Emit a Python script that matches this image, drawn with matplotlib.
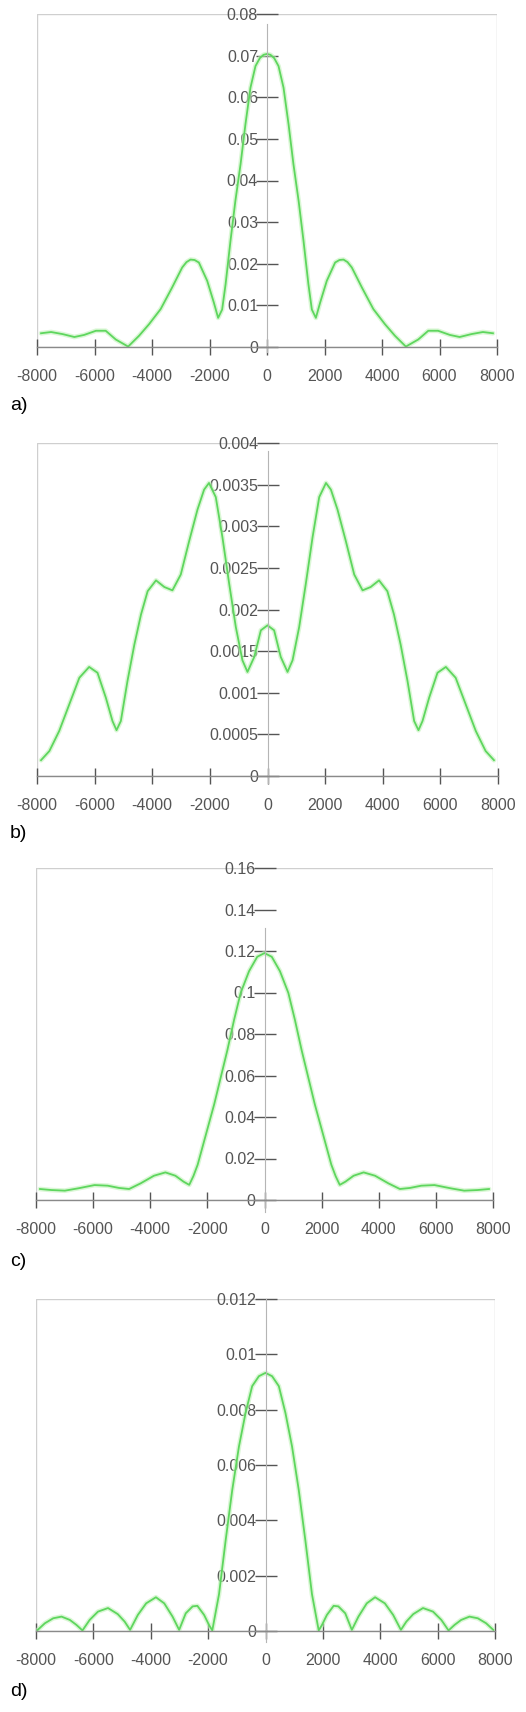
import matplotlib
matplotlib.use("Agg")
import matplotlib.pyplot as plt
from matplotlib.patches import Rectangle

plt.rcParams['font.family'] = ['Liberation Sans', 'DejaVu Sans']

# ---- data ----
x_a = [-7860, -7510, -7110, -6700, -6360, -5950, -5610, -5260, -4830, -4450, -4100, -3700,
       -3300, -2950, -2800, -2660, -2520, -2370, -2080, -1850, -1700, -1560, -1440, -1270,
       -1100, -920, -750, -575, -400, -250, -120, 0,
       120, 250, 400, 575, 750, 920, 1100, 1270, 1440, 1560, 1700, 1850, 2080, 2370, 2520,
       2660, 2800, 2950, 3300, 3700, 4100, 4450, 4830, 5260, 5610, 5950, 6360, 6700, 7110,
       7510, 7860]
y_a = [0.0033, 0.0036, 0.0031, 0.0024, 0.0029, 0.0039, 0.0039, 0.0018, 0.0001, 0.0027, 0.0055,
       0.0091, 0.0143, 0.0191, 0.0204, 0.0210, 0.0209, 0.0203, 0.0159, 0.0107, 0.0070, 0.0090,
       0.0151, 0.0255, 0.0351, 0.0439, 0.0535, 0.0623, 0.0675, 0.0694, 0.0702, 0.0704,
       0.0702, 0.0694, 0.0675, 0.0623, 0.0535, 0.0439, 0.0351, 0.0255, 0.0151, 0.0090,
       0.0070, 0.0107, 0.0159, 0.0203, 0.0209, 0.0210, 0.0204, 0.0191, 0.0143, 0.0091,
       0.0055, 0.0027, 0.0001, 0.0018, 0.0039, 0.0039, 0.0029, 0.0024, 0.0031, 0.0036, 0.0033]

x_b = [-7860, -7570, -7230, -6880, -6530, -6190, -5900, -5610, -5380, -5240, -5090, -4860,
       -4620, -4390, -4160, -3870, -3580, -3300, -3010, -2720, -2430, -2200, -2030, -1795,
       -1565, -1330, -1100, -870, -695, -460, -230, 0,
       230, 460, 695, 870, 1100, 1330, 1565, 1795, 2030, 2200, 2430, 2720, 3010, 3300, 3580,
       3870, 4160, 4390, 4620, 4860, 5090, 5240, 5380, 5610, 5900, 6190, 6530, 6880, 7230,
       7570, 7860]
y_b = [0.00019, 0.00030, 0.00054, 0.00086, 0.00118, 0.00131, 0.00124, 0.00094, 0.00066,
       0.00055, 0.00066, 0.00114, 0.00158, 0.00194, 0.00222, 0.00235, 0.00227, 0.00223,
       0.00242, 0.00282, 0.00320, 0.00344, 0.00352, 0.00335, 0.00287, 0.00231, 0.00179,
       0.00139, 0.00125, 0.00143, 0.00175, 0.00181,
       0.00175, 0.00143, 0.00125, 0.00139, 0.00179, 0.00231, 0.00287, 0.00335, 0.00352,
       0.00344, 0.00320, 0.00282, 0.00242, 0.00223, 0.00227, 0.00235, 0.00222, 0.00194,
       0.00158, 0.00114, 0.00066, 0.00055, 0.00066, 0.00094, 0.00124, 0.00131, 0.00118,
       0.00086, 0.00054, 0.00030, 0.00019]

x_c = [-7860, -7460, -6990, -6530, -5950, -5490, -5090, -4740, -4340, -3870, -3470, -3120,
       -2830, -2635, -2490, -2340, -2050, -1760, -1530, -1300, -1065, -835, -540, -255, 0,
       255, 540, 835, 1065, 1300, 1530, 1760, 2050, 2340, 2490, 2635, 2830, 3120, 3470, 3870,
       4340, 4740, 5090, 5490, 5950, 6530, 6990, 7460, 7860]
y_c = [0.0053, 0.0048, 0.0045, 0.0056, 0.0072, 0.0069, 0.0058, 0.0053, 0.0080, 0.0117,
       0.0133, 0.0117, 0.0088, 0.0073, 0.0115, 0.0170, 0.0316, 0.0462, 0.0592, 0.0722,
       0.0868, 0.0998, 0.1103, 0.1172, 0.1190,
       0.1172, 0.1103, 0.0998, 0.0868, 0.0722, 0.0592, 0.0462, 0.0316, 0.0170, 0.0115,
       0.0073, 0.0088, 0.0117, 0.0133, 0.0117, 0.0080, 0.0053, 0.0058, 0.0069, 0.0072,
       0.0056, 0.0045, 0.0048, 0.0053]

x_d = [-7940, -7690, -7400, -7110, -6820, -6590, -6380, -6130, -5840, -5490, -5150, -4910,
       -4720, -4450, -4160, -3820, -3530, -3240, -3010, -2780, -2540, -2375, -2140, -1970,
       -1855, -1620, -1390, -1160, -925, -695, -465, -230, 0,
       230, 465, 695, 925, 1160, 1390, 1620, 1855, 1970, 2140, 2375, 2540, 2780, 3010, 3240,
       3530, 3820, 4160, 4450, 4720, 4910, 5150, 5490, 5840, 6130, 6380, 6590, 6820, 7110,
       7400, 7690, 7940]
y_d = [0.00004, 0.00028, 0.00046, 0.00052, 0.00040, 0.00022, 0.00002, 0.00040, 0.00070,
       0.00083, 0.00061, 0.00034, 0.00004, 0.00058, 0.00100, 0.00122, 0.00100, 0.00052,
       0.00004, 0.00064, 0.00089, 0.00091, 0.00058, 0.00022, 0.00002, 0.00133, 0.00327,
       0.00509, 0.00667, 0.00788, 0.00885, 0.00921, 0.00933,
       0.00921, 0.00885, 0.00788, 0.00667, 0.00509, 0.00327, 0.00133, 0.00002, 0.00022,
       0.00058, 0.00091, 0.00089, 0.00064, 0.00004, 0.00052, 0.00100, 0.00122, 0.00100,
       0.00058, 0.00004, 0.00034, 0.00061, 0.00083, 0.00070, 0.00040, 0.00002, 0.00022,
       0.00040, 0.00052, 0.00046, 0.00028, 0.00004]

x_ticks = [-8000, -6000, -4000, -2000, 0, 2000, 4000, 6000, 8000]

yt_a = [0, 0.01, 0.02, 0.03, 0.04, 0.05, 0.06, 0.07, 0.08]
yl_a = ['0', '0.01', '0.02', '0.03', '0.04', '0.05', '0.06', '0.07', '0.08']
yt_b = [0, 0.0005, 0.001, 0.0015, 0.002, 0.0025, 0.003, 0.0035, 0.004]
yl_b = ['0', '0.0005', '0.001', '0.0015', '0.002', '0.0025', '0.003', '0.0035', '0.004']
yt_c = [0, 0.02, 0.04, 0.06, 0.08, 0.1, 0.12, 0.14, 0.16]
yl_c = ['0', '0.02', '0.04', '0.06', '0.08', '0.1', '0.12', '0.14', '0.16']
yt_d = [0, 0.002, 0.004, 0.006, 0.008, 0.01, 0.012]
yl_d = ['0', '0.002', '0.004', '0.006', '0.008', '0.01', '0.012']

panel_names = ['a)', 'b)', 'c)', 'd)']

W, H = 526, 1712
fig = plt.figure(figsize=(W / 100, H / 100), dpi=100)

# pixel boxes (left, right, top, bottom), axis-line extent, label y
boxes = [(37, 497, 14, 347), (37, 498, 443, 776), (36, 493, 868, 1200), (36, 495, 1299, 1631)]
yline = [(-0.0012, 0.0775), (-0.00009, 0.0039), (-0.0058, 0.131), (-0.0004, 0.012)]
label_y = [406, 834, 1261, 1692]

series = [(x_a, y_a, yt_a, yl_a), (x_b, y_b, yt_b, yl_b),
          (x_c, y_c, yt_c, yl_c), (x_d, y_d, yt_d, yl_d)]

GREEN = '#5ed65e'
for i, (xs, ys, yt, yl) in enumerate(series):
    l, r, t, b = boxes[i]
    ax = fig.add_axes([l / W, 1 - b / H, (r - l) / W, (b - t) / H])
    ax.set_xlim(-8000, 8000)
    ax.set_ylim(0, yt[-1])

    # soft glow then the curve
    ax.plot(xs, ys, color='#c2f2ba', lw=3.4, alpha=0.6, solid_joinstyle='round',
            solid_capstyle='round')
    ax.plot(xs, ys, color=GREEN, lw=1.3, solid_joinstyle='round')

    ax.add_patch(Rectangle((0, 0), 1, 1, transform=ax.transAxes, fill=False,
                           ec='#cfcfcf', lw=1.0, zorder=0))
    ax.spines['top'].set_visible(False)
    ax.spines['right'].set_visible(False)
    ax.spines['bottom'].set_color('#8a8a8a')
    ax.spines['bottom'].set_linewidth(1.0)
    ax.spines['left'].set_position(('data', 0))
    ax.spines['left'].set_bounds(yline[i][0], yline[i][1])
    ax.spines['left'].set_color('#b5b5b5')
    ax.spines['left'].set_linewidth(0.8)

    ax.set_xticks(x_ticks)
    ax.set_xticklabels([str(v) for v in x_ticks])
    ax.set_yticks(yt)
    ax.set_yticklabels(yl)
    ax.tick_params(axis='x', direction='inout', length=11.5, width=1.0, color='#555555',
                   pad=10, labelsize=11.5, labelcolor='#555555')
    ax.tick_params(axis='y', direction='inout', length=15.8, width=1.0, color='#555555',
                   pad=-1.5, labelsize=11.5, labelcolor='#555555')

    fig.text(10 / W, 1 - label_y[i] / H, panel_names[i], ha='left', va='center',
             fontsize=14, color='black')

fig.savefig('out.png', dpi=100)
